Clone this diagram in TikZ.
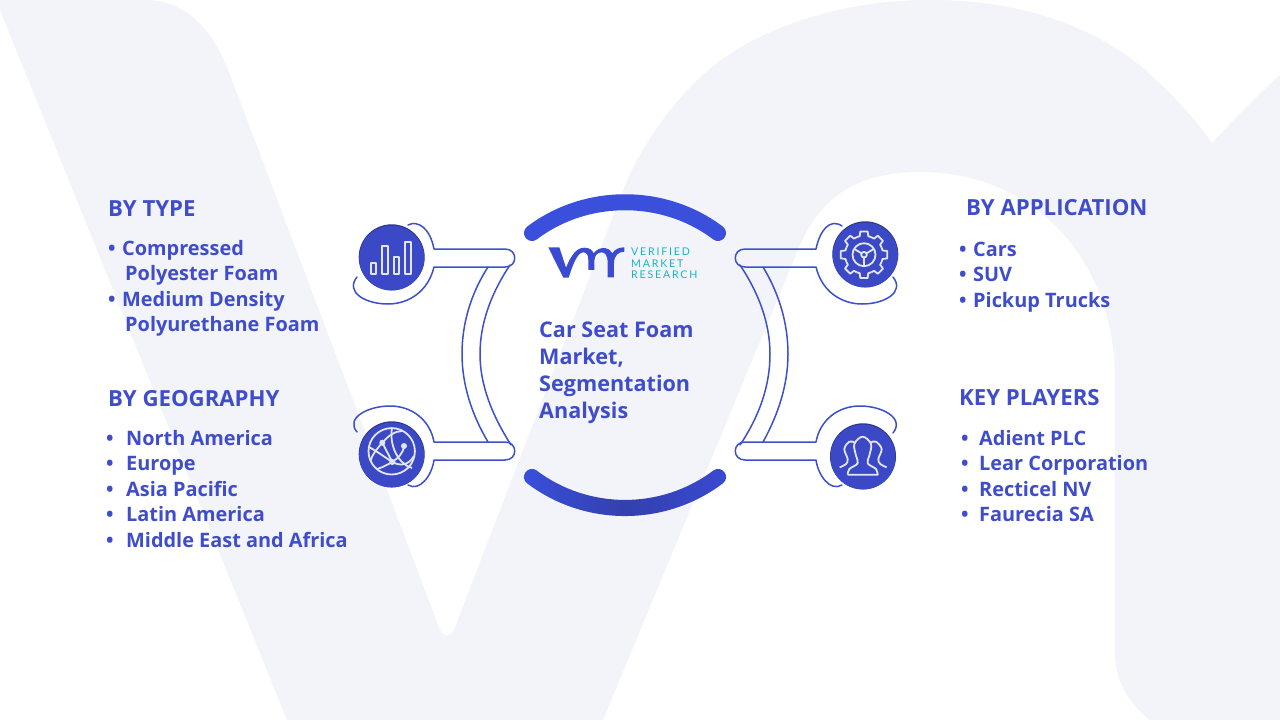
\documentclass[tikz,border=0pt]{standalone}
\usepackage{fontspec}
\setmainfont{Open Sans}
\newfontfamily\logofont[LetterSpace=17]{Lato}
\definecolor{wmgrey}{HTML}{F3F4FA}
\definecolor{inkblue}{HTML}{3F4DCB}
\definecolor{linkblue}{HTML}{3D50CC}
\definecolor{arcblue}{HTML}{3A50DC}
\definecolor{arcdark}{HTML}{3340AE}
\definecolor{badgeblue}{HTML}{3B49C6}
\definecolor{badgedark}{HTML}{2C3690}
\definecolor{iconline}{HTML}{E4E6EF}
\definecolor{logoteal}{HTML}{17B3C4}
\definecolor{logoblue}{HTML}{3A4AD2}
\tikzset{
	head/.style={anchor=base west, inner sep=0pt, text=inkblue, font=\bfseries\fontsize{22.2}{22.2}\selectfont},
	item/.style={anchor=base west, inner sep=0pt, text=inkblue, font=\bfseries\fontsize{19.9}{19.9}\selectfont},
	title/.style={anchor=base west, inner sep=0pt, text=inkblue, font=\bfseries\fontsize{21.6}{21.6}\selectfont},
	logotext/.style={anchor=base west, inner sep=0pt, text=logoteal, font=\logofont\fontsize{10.6}{10.6}\selectfont},
	tube/.style={draw=linkblue, line width=1.5pt, line join=round, line cap=round},
	badge/.style={circle, fill=badgeblue, minimum size=65pt, inner sep=0pt},
	glyph/.style={draw=iconline, line width=1.8pt, line join=round}
}
\newcommand{\bullettext}[1]{\makebox[14pt][l]{•}#1}
\begin{document}
\begin{tikzpicture}[x=1pt, y=-1pt]
	\useasboundingbox (0,0) rectangle (1280,720);
	%%%%% WATERMARK %%%%%
	\fill[white] (0,0) rectangle (1280,720);
	\fill[wmgrey] (0,10) -- (0,0) -- (145,0) .. controls (190,0) and (215,35) .. (230,75)
		-- (437,622) .. controls (442,640) and (452,640) .. (457,622)
		-- (622,193) .. controls (640,145) and (680,90) .. (721,60)
		.. controls (765,28) and (840,0) .. (930,0)
		.. controls (1020,0) and (1090,25) .. (1142,67)
		.. controls (1170,92) and (1195,118) .. (1212,143)
		.. controls (1235,118) and (1258,95) .. (1280,75) -- (1280,720) -- (1150,720)
		.. controls (1128,703) and (1115,680) .. (1115,653) -- (1115,380)
		.. controls (1115,260) and (1035,172) .. (920,172)
		.. controls (860,172) and (822,195) .. (800,245)
		-- (603,720) -- (287,720) -- cycle;
	%%%%% BIG ARCS %%%%%
	\draw[arcblue, line width=16pt, line cap=round] (532,233) .. controls (586,192) and (664,192) .. (718,233);
	\shade[left color=arcblue, right color=logoblue, middle color=arcdark]
		(527.2,483.4) .. controls (584.7,526.9) and (665.3,526.9) .. (722.8,483.4)
		.. controls (731.3,477) and (721.7,464.2) .. (713.2,470.6)
		.. controls (661.2,509.7) and (588.8,509.7) .. (536.8,470.6)
		.. controls (528.3,464.2) and (518.7,477) .. (527.2,483.4) -- cycle;
	%%%%% TUBES LEFT %%%%%
	\draw[tube] (408,225) .. controls (418,220) and (430,228) .. (434,249) -- (505,249)
		.. controls (518,249) and (518,267) .. (505,267) -- (434,267)
		.. controls (428,292) and (408,304) .. (388,304)
		.. controls (365,304) and (345,292) .. (357,277);
	\draw[tube] (488,267) .. controls (470,295) and (462,325) .. (462,354) .. controls (462,385) and (472,415) .. (488,442);
	\draw[tube] (510,265) .. controls (490,295) and (480,325) .. (480,354) .. controls (480,385) and (492,415) .. (511,445);
	\draw[tube] (357,432) .. controls (345,418) and (368,406) .. (390,406)
		.. controls (412,406) and (430,420) .. (434,442) -- (505,442)
		.. controls (518,442) and (518,460) .. (505,460) -- (434,460)
		.. controls (432,475) and (420,492) .. (408,485);
	%%%%% TUBES RIGHT %%%%%
	\draw[tube] (842,226) .. controls (830,218) and (820,230) .. (816,249) -- (745,249)
		.. controls (732,249) and (732,267) .. (745,267) -- (816,267)
		.. controls (822,292) and (842,304) .. (862,304)
		.. controls (885,304) and (905,292) .. (893,277);
	\draw[tube] (740,265) .. controls (760,295) and (770,325) .. (770,354) .. controls (770,385) and (760,415) .. (740,445);
	\draw[tube] (763,267) .. controls (780,295) and (788,325) .. (788,354) .. controls (788,385) and (778,415) .. (763,442);
	\draw[tube] (893,433) .. controls (905,418) and (882,406) .. (860,406)
		.. controls (838,406) and (820,420) .. (816,442) -- (745,442)
		.. controls (732,442) and (732,460) .. (745,460) -- (816,460)
		.. controls (818,475) and (830,492) .. (842,485);
	%%%%% BADGES %%%%%
	\fill[badgedark] (391.7,257.3) circle (33);
	\node[badge] (typebadge) at (391.7,258) {};
	\fill[badgedark] (391.7,454.3) circle (33);
	\node[badge] (geobadge) at (391.7,455) {};
	\fill[badgedark] (865.3,254.3) circle (33);
	\node[badge] (appbadge) at (865.3,255) {};
	\fill[badgedark] (863,456.3) circle (33);
	\node[badge] (playerbadge) at (863,457) {};
	%%%%% ICONS %%%%%
	\draw[glyph] (370.7,262.7) rectangle (376.3,274);
	\draw[glyph] (382,245.7) rectangle (387.7,274);
	\draw[glyph] (393.7,256.7) rectangle (399.3,274);
	\draw[glyph] (405,241.7) rectangle (411,274);
	\draw[glyph] (391.7,451.3) circle (23.2);
	\draw[glyph] (382.3,442.7) .. controls (376,450) and (372,455) .. (370.5,461);
	\draw[glyph] (382.3,442.7) .. controls (388,436) and (395,431) .. (402,431);
	\draw[glyph] (382.3,442.7) -- (392.3,462);
	\draw[glyph] (369,447) .. controls (378,452) and (386,458) .. (392.3,462) .. controls (400,466) and (408,466) .. (414,456);
	\draw[glyph] (392,428) .. controls (389,445) and (398,464) .. (412,468);
	\draw[glyph] (404,446) .. controls (403,454) and (398,458) .. (392.3,462) .. controls (385,466) and (379,469) .. (376,469);
	\fill[iconline] (382.3,442.7) circle (3);
	\fill[iconline] (404,446) circle (3);
	\fill[iconline] (392.3,462) circle (3);
	\begin{scope}[shift={(864,254.7)}]
		\foreach \a in {0,45,...,315}
			\draw[glyph, rotate=\a] (-22.5:19) -- (-13:19) -- (-9:23.5) -- (9:23.5) -- (13:19) -- (22.5:19);
		\draw[glyph] (0,0) circle (11.5);
		\draw[glyph] (0,0) circle (2.8);
		\foreach \a in {90,210,330}
			\draw[glyph] (\a:2.8) -- (\a:11.5);
	\end{scope}
	\begin{scope}[shift={(821,414)}, x=0.3333pt, y=-0.3333pt]
		\draw[glyph] plot[smooth, tension=0.6] coordinates {(80,182) (85,165) (110,148) (105,125) (100,90) (125,68) (150,90) (145,125) (140,148) (165,165) (170,182)} -- (80,182);
		\draw[glyph] plot[smooth, tension=0.6] coordinates {(56,160) (75,150) (80,135) (70,105) (85,83) (100,85)};
		\draw[glyph] plot[smooth, tension=0.6] coordinates {(150,85) (165,83) (182,105) (172,135) (178,150) (197,160)};
	\end{scope}
	%%%%% LOGO %%%%%
	\begin{scope}[shift={(540,235)}, x=0.3333pt, y=-0.3333pt]
		\fill[logoblue] (25,37) -- (58,37) -- (78,98) .. controls (90,70) and (105,38) .. (133,38)
			.. controls (148,38) and (157,45) .. (161,55) .. controls (170,42) and (185,38) .. (195,39)
			.. controls (205,40) and (213,46) .. (217,55) .. controls (225,42) and (238,37) .. (253,37) -- (253,50)
			.. controls (235,50) and (222,62) .. (222,85) -- (222,127) -- (203,127) -- (203,85)
			.. controls (203,60) and (195,52) .. (185,52) .. controls (172,52) and (163,62) .. (163,80) -- (163,105) -- (145,105) -- (145,75)
			.. controls (145,60) and (140,52) .. (130,52) .. controls (112,52) and (98,90) .. (86,128) -- (70,128) -- cycle;
	\end{scope}
	\node[logotext] (logoa) at (631,255) {VERIFIED};
	\node[logotext] (logob) at (631,267) {MARKET};
	\node[logotext] (logoc) at (631,278.5) {RESEARCH};
	%%%%% TITLE %%%%%
	\node[title] (titlea) at (539,337) {Car Seat Foam};
	\node[title] (titleb) at (539,364) {Market,};
	\node[title] (titlec) at (539,391) {Segmentation};
	\node[title] (titled) at (539,418) {Analysis};
	%%%%% LISTS %%%%%
	\node[head] (typehead) at (108,216) {BY TYPE};
	\node[item] (typea) at (108,255) {\bullettext{Compressed}};
	\node[item] (typeb) at (125,280) {Polyester Foam};
	\node[item] (typec) at (108,306) {\bullettext{Medium Density}};
	\node[item] (typed) at (125,331) {Polyurethane Foam};
	\node[head] (geohead) at (108,406) {BY GEOGRAPHY};
	\foreach \y/\t in {445/North America,470/Europe,496/Asia Pacific,521/Latin America,547/Middle East and Africa}
		\node[item] (geo\y) at (106,\y) {\makebox[20pt][l]{•}\t};
	\node[head] (apphead) at (966,215) {BY APPLICATION};
	\foreach \y/\t in {256/Cars,281/SUV,307/Pickup Trucks}
		\node[item] (app\y) at (959,\y) {\bullettext{\t}};
	\node[head] (playerhead) at (959,405) {KEY PLAYERS};
	\foreach \y/\t in {445/Adient PLC,470/Lear Corporation,496/Recticel NV,521/Faurecia SA}
		\node[item] (player\y) at (961,\y) {\makebox[18pt][l]{•}\t};
\end{tikzpicture}
\end{document}
